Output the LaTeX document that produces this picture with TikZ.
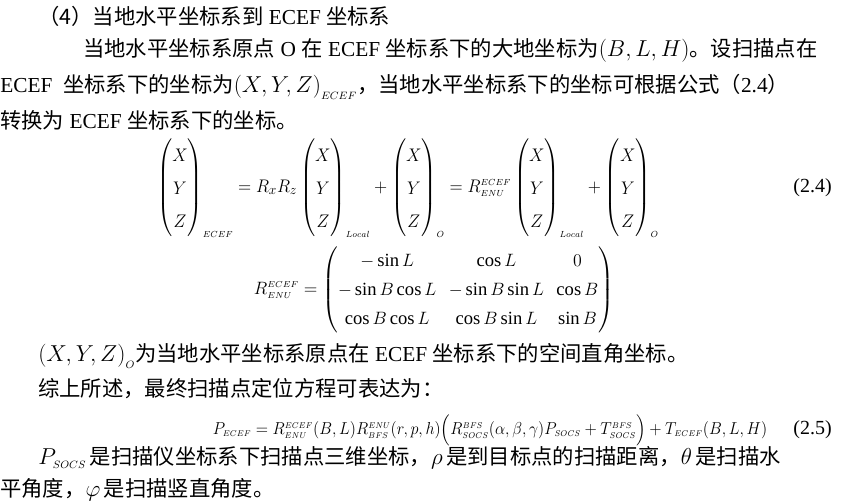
\documentclass[tikz,border=0pt]{standalone}
\usepackage{amsmath}
\usepackage{graphicx}
\usepackage{fontspec}
\setmainfont{Liberation Serif}
\newfontfamily\cjk{Noto Sans CJK SC}
\newcommand{\sub}[1]{_{\scriptscriptstyle #1}}
\begin{document}
\begin{tikzpicture}[x=0.75pt,y=-0.75pt,
  txt/.style={anchor=west,inner sep=0pt,font=\fontsize{16}{20}\selectfont},
  eqn/.style={anchor=center,inner sep=0pt,font=\fontsize{15}{18}\selectfont}]
\useasboundingbox (0,0) rectangle (865,502);
\node[txt] (l1) at (38,16) {{\cjk （4）当地水平坐标系到} ECEF {\cjk 坐标系}};
\node[txt] (l2) at (83,50) {{\cjk 当地水平坐标系原点} O {\cjk 在} ECEF {\cjk 坐标系下的大地坐标为}$\left(B,L,H\right)${\cjk 。设扫描点在}};
\node[txt] (l3) at (0,87) {ECEF\ \ {\cjk 坐标系下的坐标为}$\left(X,Y,Z\right)\sub{ECEF}${\cjk ，当地水平坐标系下的坐标可根据公式（}2.4{\cjk ）}};
\node[txt] (l4) at (0,120) {{\cjk 转换为} ECEF {\cjk 坐标系下的坐标。}};
\node[eqn] (e24) at (408,188) {\scalebox{0.9}[0.95]{$\renewcommand{\arraystretch}{1.45}
 \begin{pmatrix}X\\Y\\Z\end{pmatrix}\sub{ECEF}
 = R_xR_z\begin{pmatrix}X\\Y\\Z\end{pmatrix}\sub{Local}
 +\begin{pmatrix}X\\Y\\Z\end{pmatrix}\sub{O}
 = R\sub{ENU}^{\scriptscriptstyle ECEF}\begin{pmatrix}X\\Y\\Z\end{pmatrix}\sub{Local}
 +\begin{pmatrix}X\\Y\\Z\end{pmatrix}\sub{O}$}};
\node[eqn,anchor=east] (n24) at (832,188) {(2.4)};
\node[eqn] (eR) at (434,290) {\scalebox{0.93}{$R\sub{ENU}^{\scriptscriptstyle ECEF}=\renewcommand{\arraystretch}{1.3}
 \begin{pmatrix}-\sin L & \cos L & 0\\ -\sin B\cos L & -\sin B\sin L & \cos B\\ \cos B\cos L & \cos B\sin L & \sin B\end{pmatrix}$}};
\node[txt] (l5) at (38,356) {$\left(X,Y,Z\right)\sub{O}${\cjk 为当地水平坐标系原点在} ECEF {\cjk 坐标系下的空间直角坐标。}};
\node[txt] (l6) at (38,389) {{\cjk 综上所述，最终扫描点定位方程可表达为：}};
\node[eqn] (e25) at (490,430) {\scalebox{0.84}[0.9]{$P\sub{ECEF}=R\sub{ENU}^{\scriptscriptstyle ECEF}(B,L)R\sub{BFS}^{\scriptscriptstyle ENU}(r,p,h)\Big(R\sub{SOCS}^{\scriptscriptstyle BFS}(\alpha,\beta,\gamma)P\sub{SOCS}+T\sub{SOCS}^{\scriptscriptstyle BFS}\Big)+T\sub{ECEF}(B,L,H)$}};
\node[eqn,anchor=east] (n25) at (832,430) {(2.5)};
\node[txt] (l7) at (38,458) {$P\sub{SOCS}$\,{\cjk 是扫描仪坐标系下扫描点三维坐标，}$\rho$\,{\cjk 是到目标点的扫描距离，}$\theta$\,{\cjk 是扫描水}};
\node[txt] (l8) at (0,490) {{\cjk 平角度，}$\varphi$\,{\cjk 是扫描竖直角度。}};
\end{tikzpicture}
\end{document}
